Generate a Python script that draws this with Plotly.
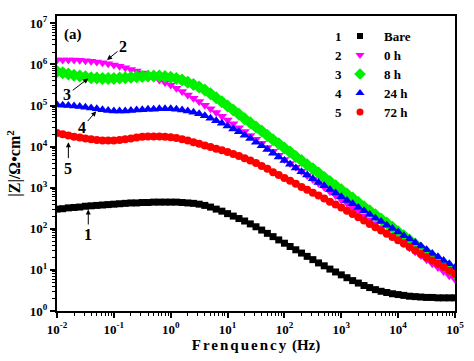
import plotly.graph_objects as go

# log10 of frequency (Hz)
FREQ_EXP = [-2.0, -1.9, -1.8, -1.7, -1.6, -1.5, -1.4, -1.3, -1.2, -1.1,
            -1.0, -0.9, -0.8, -0.7, -0.6, -0.5, -0.4, -0.3, -0.2, -0.1,
            0.0, 0.1, 0.2, 0.3, 0.4, 0.5, 0.6, 0.7, 0.8, 0.9,
            1.0, 1.1, 1.2, 1.3, 1.4, 1.5, 1.6, 1.7, 1.8, 1.9,
            2.0, 2.1, 2.2, 2.3, 2.4, 2.5, 2.6, 2.7, 2.8, 2.9,
            3.0, 3.1, 3.2, 3.3, 3.4, 3.5, 3.6, 3.7, 3.8, 3.9,
            4.0, 4.1, 4.2, 4.3, 4.4, 4.5, 4.6, 4.7, 4.8, 4.9, 5.0]

# log10 |Z| (Ohm cm^2)
LOGZ_BARE = [2.48, 2.49, 2.51, 2.52, 2.53, 2.55, 2.56, 2.57, 2.58, 2.59,
             2.60, 2.61, 2.62, 2.63, 2.63, 2.64, 2.64, 2.65, 2.65, 2.65,
             2.65, 2.65, 2.64, 2.63, 2.62, 2.60, 2.57, 2.53, 2.48, 2.43,
             2.37, 2.31, 2.25, 2.19, 2.12, 2.05, 1.97, 1.89, 1.81, 1.73,
             1.65, 1.57, 1.49, 1.41, 1.33, 1.25, 1.17, 1.10, 1.02, 0.95,
             0.88, 0.81, 0.74, 0.68, 0.62, 0.57, 0.52, 0.48, 0.45, 0.42,
             0.40, 0.38, 0.36, 0.35, 0.34, 0.33, 0.33, 0.32, 0.32, 0.32, 0.32]
LOGZ_0H = [6.11, 6.11, 6.11, 6.11, 6.10, 6.09, 6.08, 6.06, 6.04, 6.02,
           5.99, 5.96, 5.92, 5.88, 5.84, 5.79, 5.74, 5.68, 5.62, 5.56,
           5.50, 5.42, 5.34, 5.26, 5.18, 5.10, 5.01, 4.92, 4.83, 4.74,
           4.65, 4.56, 4.46, 4.37, 4.27, 4.18, 4.08, 3.98, 3.89, 3.79,
           3.69, 3.59, 3.50, 3.40, 3.30, 3.20, 3.11, 3.01, 2.91, 2.81,
           2.71, 2.62, 2.52, 2.42, 2.32, 2.22, 2.13, 2.03, 1.93, 1.83,
           1.74, 1.64, 1.54, 1.44, 1.35, 1.25, 1.15, 1.06, 0.96, 0.86, 0.77]
LOGZ_8H = [5.83, 5.80, 5.77, 5.74, 5.72, 5.70, 5.68, 5.67, 5.66, 5.66,
           5.66, 5.67, 5.68, 5.69, 5.70, 5.71, 5.72, 5.72, 5.72, 5.71,
           5.69, 5.66, 5.62, 5.57, 5.51, 5.45, 5.38, 5.29, 5.19, 5.09,
           4.99, 4.89, 4.79, 4.68, 4.58, 4.48, 4.38, 4.27, 4.17, 4.07,
           3.97, 3.87, 3.76, 3.66, 3.56, 3.46, 3.36, 3.25, 3.15, 3.05,
           2.95, 2.85, 2.75, 2.64, 2.54, 2.44, 2.34, 2.24, 2.14, 2.04,
           1.93, 1.83, 1.73, 1.63, 1.53, 1.43, 1.33, 1.23, 1.12, 1.02, 0.92]
LOGZ_24H = [5.02, 5.01, 5.00, 4.99, 4.98, 4.96, 4.94, 4.92, 4.90, 4.88,
            4.87, 4.87, 4.87, 4.88, 4.89, 4.90, 4.91, 4.91, 4.92, 4.92,
            4.92, 4.91, 4.89, 4.87, 4.84, 4.80, 4.75, 4.69, 4.63, 4.57,
            4.50, 4.43, 4.36, 4.28, 4.20, 4.11, 4.02, 3.93, 3.84, 3.75,
            3.66, 3.57, 3.48, 3.39, 3.31, 3.22, 3.13, 3.05, 2.96, 2.87,
            2.78, 2.69, 2.61, 2.52, 2.44, 2.35, 2.26, 2.18, 2.09, 2.01,
            1.92, 1.83, 1.75, 1.66, 1.58, 1.49, 1.40, 1.32, 1.23, 1.15, 1.06]
LOGZ_72H = [4.33, 4.30, 4.27, 4.24, 4.22, 4.20, 4.18, 4.16, 4.15, 4.15,
            4.15, 4.16, 4.18, 4.20, 4.22, 4.24, 4.25, 4.25, 4.25, 4.24,
            4.23, 4.21, 4.18, 4.15, 4.11, 4.07, 4.03, 3.99, 3.95, 3.91,
            3.87, 3.82, 3.77, 3.72, 3.66, 3.60, 3.53, 3.46, 3.38, 3.31,
            3.24, 3.17, 3.10, 3.02, 2.95, 2.88, 2.81, 2.74, 2.66, 2.59,
            2.52, 2.44, 2.36, 2.28, 2.20, 2.12, 2.04, 1.96, 1.88, 1.80,
            1.72, 1.64, 1.56, 1.47, 1.39, 1.31, 1.23, 1.15, 1.07, 0.98, 0.90]

SERIES_NAMES = ["Bare", "0 h", "8 h", "24 h", "72 h"]
SERIES_NUMS = ["1", "2", "3", "4", "5"]
X_TICK_EXP = [-2, -1, 0, 1, 2, 3, 4, 5]
Y_TICK_EXP = [0, 1, 2, 3, 4, 5, 6, 7]

freq = [10 ** e for e in FREQ_EXP]
series = [LOGZ_BARE, LOGZ_0H, LOGZ_8H, LOGZ_24H, LOGZ_72H]
colors = ["#000000", "#FF00FF", "#00F000", "#0000FF", "#FF0000"]
symbols = ["square", "triangle-down", "diamond", "triangle-up", "circle"]
sizes = [7, 9, 10, 9, 8]
leg_sizes = [6, 8, 9, 8, 7]

FONT = "Liberation Serif"

# plot-area geometry (pixels)
L_PX, R_PX, T_PX, B_PX = 57, 455, 16, 311
W, H = 474, 361

fig = go.Figure()
for name, vals, c, s, sz in zip(SERIES_NAMES, series, colors, symbols, sizes):
    fig.add_trace(go.Scatter(
        x=freq, y=[10 ** v for v in vals], mode="markers", name=name,
        marker=dict(symbol=s, color=c, size=sz, line=dict(width=0)),
        showlegend=False,
    ))

def minor_vals(lo, hi):
    out = []
    for k in range(lo, hi):
        for m in range(2, 10):
            out.append(m * 10 ** k)
    return out

axis_common = dict(
    type="log", showgrid=False, zeroline=False, automargin=False,
    showline=True, linewidth=2, linecolor="black", mirror=True,
    ticks="outside", ticklen=5, tickwidth=2, tickcolor="black",
    tickfont=dict(family=FONT, size=13, color="black", weight="bold"),
)

xtitle = "<span style='letter-spacing:2px'>Frenquency</span> (Hz)"

fig.update_xaxes(
    **axis_common, range=[-2, 5],
    tickvals=[10 ** e for e in X_TICK_EXP],
    ticktext=["10<sup>%d</sup>" % e for e in X_TICK_EXP],
    minor=dict(ticks="outside", ticklen=3, tickwidth=1, tickcolor="black",
               tickvals=minor_vals(-2, 5)),
    title=dict(text=xtitle,
               font=dict(family=FONT, size=15, color="black", weight="bold"),
               standoff=4),
)
fig.update_yaxes(
    **axis_common, range=[0, 7.18],
    tickvals=[10 ** e for e in Y_TICK_EXP],
    ticktext=["10<sup>%d</sup>" % e for e in Y_TICK_EXP],
    minor=dict(ticks="outside", ticklen=3, tickwidth=1, tickcolor="black",
               tickvals=minor_vals(0, 8)),
    title=dict(text="|Z|/Ω•cm<sup>2</sup>",
               font=dict(family=FONT, size=16, color="black", weight="bold"),
               standoff=5),
)

# overlay axes in pixel units, used only for the legend key symbols
fig.update_layout(
    xaxis2=dict(overlaying="x", range=[L_PX, R_PX], visible=False,
                fixedrange=True),
    yaxis2=dict(overlaying="y", range=[B_PX, T_PX], visible=False,
                fixedrange=True),
)

label_font = dict(family=FONT, size=16, color="black", weight="bold")
# (label, arrow tip logf, arrow tip logz, ax, ay)
arrows = [
    ("2", -1.12, 6.11, 16, -13),
    ("3", -1.45, 5.66, -21, 16),
    ("4", -1.31, 4.86, -14, 16),
    ("5", -1.80, 4.11, 0, 26),
    ("1", -1.45, 2.47, 0, 25),
]
for txt, xf, yz, ax, ay in arrows:
    fig.add_annotation(x=xf, y=yz, xref="x", yref="y", text=txt,
                       showarrow=True, ax=ax, ay=ay, arrowhead=2,
                       arrowsize=1, arrowwidth=1, arrowcolor="black",
                       font=label_font)

fig.add_annotation(x=-1.72, y=6.72, xref="x", yref="y", text="(a)",
                   showarrow=False,
                   font=dict(family=FONT, size=15, color="black", weight="bold"))

# legend: numbers, key symbols, labels
leg_font = dict(family=FONT, size=13, color="black", weight="bold")
LEG_ROW0, LEG_DY = 36, 19
leg_rows = [LEG_ROW0 + LEG_DY * i for i in range(len(SERIES_NAMES))]
for i, (num, name, c, s, sz) in enumerate(zip(SERIES_NUMS, SERIES_NAMES,
                                               colors, symbols, leg_sizes)):
    yp = leg_rows[i]
    fig.add_trace(go.Scatter(
        x=[360], y=[yp], xaxis="x2", yaxis="y2", mode="markers",
        marker=dict(symbol=s, color=c, size=sz, line=dict(width=0)),
        showlegend=False, hoverinfo="skip",
    ))
    fig.add_annotation(x=338, y=yp, xref="x2", yref="y2", text=num,
                       showarrow=False, font=leg_font)
    fig.add_annotation(x=382, y=yp, xref="x2", yref="y2", text=name,
                       showarrow=False, xanchor="left", font=leg_font)

fig.update_layout(
    width=W, height=H,
    margin=dict(l=L_PX, r=W - R_PX, t=T_PX, b=H - B_PX),
    paper_bgcolor="white", plot_bgcolor="white",
    showlegend=False,
)

fig.write_html("out.html", config={"displayModeBar": False},
               post_script="document.body.style.margin='0';"
                           "document.body.style.overflow='hidden';")
